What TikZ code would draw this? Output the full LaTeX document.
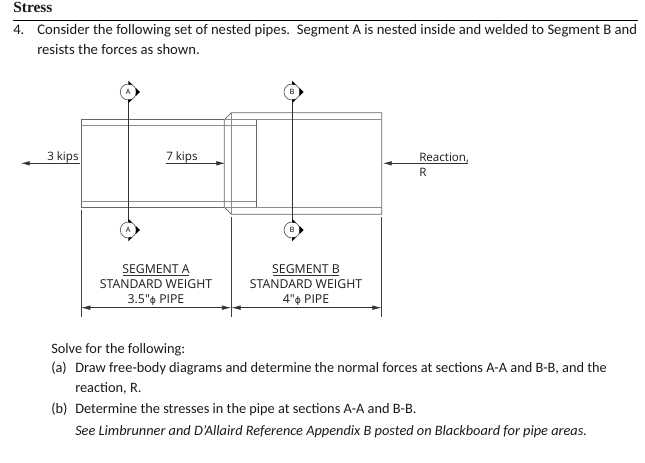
\documentclass[tikz,border=0pt]{standalone}
\usepackage{fontspec}
\setmainfont{Carlito}
\newfontfamily\headfont{Liberation Serif}
\newfontfamily\cadfont{Open Sans}
\newfontfamily\symfont{DejaVu Sans}
\usetikzlibrary{arrows.meta}
\tikzset{
  para/.style={anchor=base west,inner sep=0pt,text=black!90,font=\fontsize{10.75}{12}\selectfont},
  paratop/.style={para,font=\fontsize{11}{12}\selectfont},
  cad/.style={anchor=base,inner sep=0pt,text=black!90,font=\cadfont\fontsize{9.2}{10}\selectfont},
  load/.style={anchor=base west,inner sep=0pt,text=black!90,font=\cadfont\fontsize{8.7}{10}\selectfont},
  pipe/.style={draw=black!60,line width=0.55pt},
  thin pipe/.style={draw=black!45,line width=0.5pt},
  dimline/.style={draw=black!75,line width=0.45pt},
  arrow/.style={draw=black!80,line width=0.5pt,-{Latex[length=6.5pt,width=3.4pt]}},
  secmark/.style={draw=black!70,fill=white,circle,minimum size=12pt,inner sep=0pt,line width=0.45pt,font=\cadfont\fontsize{5.5}{6}\selectfont},
  secline/.style={draw=black!80,line width=0.5pt},
  wedge/.style={fill=black,draw=none}
}
\newcommand{\secwedges}[1]{%
  \fill[wedge] ([xshift=5.6pt,yshift=-3pt]#1.center) -- ([xshift=8.8pt]#1.center) -- ([xshift=5.6pt,yshift=3pt]#1.center) -- cycle;
  \fill[wedge] ([yshift=8.5pt]#1.center) -- ([xshift=3pt,yshift=5.6pt]#1.center) -- ([yshift=5.6pt]#1.center) -- cycle;
  \fill[wedge] ([yshift=-8.5pt]#1.center) -- ([xshift=3pt,yshift=-5.6pt]#1.center) -- ([yshift=-5.6pt]#1.center) -- cycle;
}
\newcommand{\pipephi}{{\symfont\fontsize{7}{8}\selectfont ϕ}}
\begin{document}
\begin{tikzpicture}[x=0.75pt,y=-0.75pt]
\useasboundingbox (0,0) rectangle (645,463);
% header text
\node[anchor=base west,inner sep=0pt,font=\headfont\bfseries\fontsize{11.6}{12}\selectfont,text=black!90] (title) at (13,13) {Stress};
\coordinate (ruleL) at (13,20.5);
\coordinate (ruleR) at (638,20.5);
\draw[black,line width=0.6pt] (ruleL) -- (ruleR);
\node[paratop] (qnum) at (13,35) {4.};
\node[paratop] (q1) at (37,35) {Consider the following set of nested pipes.\ \ Segment A is nested inside and welded to Segment B and};
\node[paratop] (q2) at (37,55) {resists the forces as shown.};
% pipe A
\coordinate (AtlO) at (81,119.3);
\coordinate (AbrO) at (256.3,207.3);
\draw[pipe] (AtlO) rectangle (AbrO);
\draw[thin pipe] (81,125) -- (256.3,125);
\draw[thin pipe] (81,201.7) -- (256.3,201.7);
% pipe B
\draw[pipe] (224.3,120) -- (231.3,112.7) -- (381.7,112.7) -- (381.7,214.3) -- (231.3,214.3) -- (224.3,207) -- cycle;
\draw[thin pipe] (224.3,119.3) -- (381.7,119.3);
\draw[thin pipe] (224.3,207.3) -- (381.7,207.3);
\draw[thin pipe] (231.3,112.7) -- (231.3,214.3);
% section lines
\node[secmark] (A1) at (128.3,92) {A};
\node[secmark] (A2) at (128.3,230) {A};
\node[secmark] (B1) at (292,92) {B};
\node[secmark] (B2) at (292,230) {B};
\draw[secline] (A1) -- (A2);
\draw[secline] (B1) -- (B2);
\secwedges{A1}\secwedges{A2}\secwedges{B1}\secwedges{B2}
% loads
\coordinate (f3a) at (79.5,163.3);
\coordinate (f3b) at (21,163.3);
\draw[arrow] (f3a) -- (f3b);
\node[load] (f3) at (47,161) {3 kips};
\coordinate (f7a) at (166,163.3);
\coordinate (f7b) at (225,163.3);
\draw[arrow] (f7a) -- (f7b);
\node[load] (f7) at (166,161) {7 kips};
\coordinate (fRa) at (468,163.3);
\coordinate (fRb) at (383,163.3);
\draw[arrow] (fRa) -- (fRb);
\node[load] (fR) at (419,161.5) {Reaction,};
\node[load] (fR2) at (419,177) {R};
% dimension lines
\coordinate (e1a) at (81,210); \coordinate (e1b) at (81,316.7);
\coordinate (e2a) at (231.3,217); \coordinate (e2b) at (231.3,316.7);
\coordinate (e3a) at (381.7,217); \coordinate (e3b) at (381.7,316.7);
\draw[dimline] (e1a) -- (e1b);
\draw[dimline] (e2a) -- (e2b);
\draw[dimline] (e3a) -- (e3b);
\coordinate (d1) at (81,307.7); \coordinate (d2) at (231.3,307.7); \coordinate (d3) at (381.7,307.7);
\draw[arrow,{Latex[length=7pt,width=3.4pt]}-{Latex[length=7pt,width=3.4pt]}] (d1) -- (d2);
\draw[arrow,{Latex[length=7pt,width=3.4pt]}-{Latex[length=7pt,width=3.4pt]}] (d2) -- (d3);
% labels
\node[cad] (sa1) at (156,273) {SEGMENT A};
\node[cad] (sa2) at (156,288) {STANDARD WEIGHT};
\node[cad] (sa3) at (156,303) {3.5"\pipephi{} PIPE};
\node[cad] (sb1) at (306,273) {SEGMENT B};
\node[cad] (sb2) at (306,288) {STANDARD WEIGHT};
\node[cad] (sb3) at (306,303) {4"\pipephi{} PIPE};
\draw[black!80,line width=0.4pt] (123,275) -- (189,275);
\draw[black!80,line width=0.4pt] (273,275) -- (339,275);
% lower text
\node[para] (s0) at (51,353) {Solve for the following:};
\node[para] (a0) at (51,372) {(a)};
\node[para] (a1) at (75,372) {Draw free-body diagrams and determine the normal forces at sections A-A and B-B, and the};
\node[para] (a2) at (75,392) {reaction, R.};
\node[para] (b0) at (51,413) {(b)};
\node[para] (b1) at (75,413) {Determine the stresses in the pipe at sections A-A and B-B.};
\node[para,font=\itshape\fontsize{10.75}{12}\selectfont] (b2) at (75,435) {See Limbrunner and D’Allaird Reference Appendix B posted on Blackboard for pipe areas.};
\end{tikzpicture}
\end{document}
